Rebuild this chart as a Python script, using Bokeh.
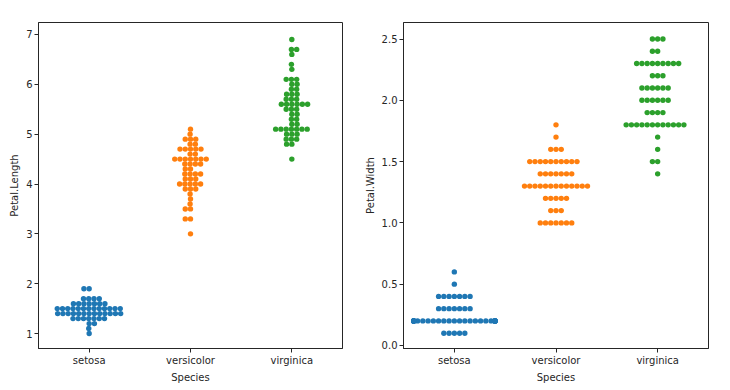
import numpy as np
from bokeh.plotting import figure
from bokeh.layouts import row
from bokeh.models import Range1d, FixedTicker, ColumnDataSource
from bokeh.embed import file_html
from bokeh.resources import INLINE

species = ["setosa", "versicolor", "virginica"]
colors = ["#1f77b4", "#ff7f0e", "#2ca02c"]

setosa_length = [1.4,1.4,1.3,1.5,1.4,1.7,1.4,1.5,1.4,1.5,1.5,1.6,1.4,1.1,1.2,1.5,1.3,1.4,1.7,1.5,
                 1.7,1.5,1.0,1.7,1.9,1.6,1.6,1.5,1.4,1.6,1.6,1.5,1.5,1.4,1.5,1.2,1.3,1.4,1.3,1.5,
                 1.3,1.3,1.3,1.6,1.9,1.4,1.6,1.4,1.5,1.4]
versicolor_length = [4.7,4.5,4.9,4.0,4.9,4.5,4.7,3.3,4.6,3.9,3.5,4.2,4.0,4.7,3.6,4.4,4.5,4.1,4.5,3.9,
                     4.8,4.0,4.9,4.7,4.3,4.4,4.8,5.0,4.5,3.5,3.8,3.7,3.9,5.1,4.5,4.5,4.7,4.4,4.1,4.0,
                     4.4,4.6,4.0,3.3,4.2,4.2,4.2,4.3,3.0,4.1]
virginica_length = [6.0,5.1,5.9,5.6,5.8,6.6,4.5,6.3,5.8,6.1,5.1,5.3,5.5,5.0,5.1,5.3,5.5,6.7,6.9,5.0,
                    5.7,4.9,6.7,4.9,5.7,6.0,4.8,4.9,5.6,5.8,6.1,6.4,5.6,5.1,5.6,6.1,5.6,5.5,4.8,5.4,
                    5.6,5.1,5.1,5.9,5.7,5.2,5.0,5.2,5.4,5.1]

setosa_width = [0.2,0.2,0.2,0.2,0.2,0.4,0.3,0.2,0.2,0.1,0.2,0.2,0.1,0.1,0.2,0.4,0.4,0.3,0.3,0.3,
                0.2,0.4,0.2,0.5,0.2,0.2,0.4,0.2,0.2,0.2,0.2,0.4,0.1,0.2,0.2,0.2,0.2,0.1,0.2,0.2,
                0.3,0.3,0.2,0.6,0.4,0.3,0.2,0.2,0.2,0.2]
versicolor_width = [1.4,1.5,1.5,1.3,1.5,1.3,1.6,1.0,1.3,1.4,1.0,1.5,1.0,1.4,1.3,1.4,1.5,1.0,1.5,1.1,
                    1.8,1.3,1.5,1.2,1.3,1.4,1.4,1.7,1.5,1.0,1.1,1.0,1.2,1.6,1.5,1.6,1.5,1.3,1.3,1.3,
                    1.2,1.4,1.2,1.0,1.3,1.2,1.3,1.3,1.1,1.3]
virginica_width = [2.5,1.9,2.1,1.8,2.2,2.1,1.7,1.8,1.8,2.5,2.0,1.9,2.1,2.0,2.4,2.3,1.8,2.2,2.3,1.5,
                   2.3,2.0,2.0,1.8,2.1,1.8,1.8,1.8,2.1,1.6,1.9,2.0,2.2,1.5,1.4,2.3,2.4,1.8,1.8,2.1,
                   1.8,2.3,2.3,2.3,2.5,2.3,1.9,2.0,2.3,1.8]

length_ticks = [1, 2, 3, 4, 5, 6, 7]
width_ticks = [0.0, 0.5, 1.0, 1.5, 2.0, 2.5]

MARKER = 5.0
FONT = "DejaVu Sans"
TXT = "#262626"


def beeswarm(values, px_per_y, px_per_x, half_width=0.4):
    """Seaborn-like swarm layout, computed in screen pixels; returns x offsets in data units."""
    y = np.asarray(values, dtype=float) * px_per_y
    r = MARKER / 2.0
    order = np.argsort(y, kind="stable")
    placed = []
    out = np.zeros(len(y))
    for idx in order:
        yi = y[idx]
        neigh = [(xj, yj) for (xj, yj) in placed if abs(yi - yj) < 2 * r]
        cands = [0.0]
        left_first = True
        for xj, yj in neigh:
            dy = yi - yj
            dx = np.sqrt(max((2 * r) ** 2 - dy ** 2, 0)) * 1.05
            if left_first:
                cands += [xj - dx, xj + dx]
            else:
                cands += [xj + dx, xj - dx]
            left_first = not left_first
        cands = sorted(cands, key=lambda c: abs(c))
        chosen = cands[0]
        if neigh:
            for c in cands:
                ok = all((xj - c) ** 2 + (yj - yi) ** 2 >= (2 * r) ** 2 - 1e-9 for xj, yj in neigh)
                if ok:
                    chosen = c
                    break
        placed.append((chosen, yi))
        out[idx] = chosen / px_per_x
    return np.clip(out, -half_width, half_width)


def make_panel(series, yrange, ticks, ylabel, fmt, left, frame_w, right, top, frame_h, bottom):
    p = figure(frame_width=frame_w, frame_height=frame_h,
               x_range=Range1d(-0.5, 2.5), y_range=Range1d(*yrange),
               output_backend="svg", toolbar_location=None,
               min_border_left=left, min_border_right=right,
               min_border_top=top, min_border_bottom=bottom)
    px_y = frame_h / (yrange[1] - yrange[0])
    px_x = frame_w / 3.0
    for i, (vals, col) in enumerate(zip(series, colors)):
        offs = beeswarm(vals, px_y, px_x)
        src = ColumnDataSource(dict(x=i + offs, y=vals))
        p.scatter("x", "y", source=src, size=MARKER + 0.4, fill_color=col, line_color=None)
    p.grid.visible = False
    p.outline_line_color = TXT
    p.outline_line_width = 1
    p.outline_line_alpha = 1
    p.background_fill_color = "white"
    p.border_fill_color = "white"

    xa = p.xaxis[0]
    xa.ticker = FixedTicker(ticks=[0, 1, 2])
    xa.major_label_overrides = {0: species[0], 1: species[1], 2: species[2]}
    xa.axis_label = "Species"

    ya = p.yaxis[0]
    ya.ticker = FixedTicker(ticks=ticks)
    ya.major_label_overrides = {t: fmt.format(t) for t in ticks}
    ya.axis_label = ylabel

    for ax in (xa, ya):
        ax.major_tick_out = 4
        ax.major_tick_in = 0
        ax.minor_tick_out = 0
        ax.minor_tick_in = 0
        ax.major_tick_line_color = TXT
        ax.axis_line_color = TXT
        ax.major_label_text_font = FONT
        ax.major_label_text_font_size = "10px"
        ax.major_label_text_color = TXT
        ax.axis_label_text_font = FONT
        ax.axis_label_text_font_size = "10px"
        ax.axis_label_text_font_style = "normal"
        ax.axis_label_text_color = TXT
        ax.major_label_standoff = 2
        ax.axis_label_standoff = 3
    return p


p1 = make_panel([setosa_length, versicolor_length, virginica_length], (0.70, 7.24),
                length_ticks, "Petal.Length", "{:d}",
                left=38, frame_w=304, right=15, top=22, frame_h=326, bottom=36)
p2 = make_panel([setosa_width, versicolor_width, virginica_width], (-0.025, 2.635),
                width_ticks, "Petal.Width", "{:.1f}",
                left=46, frame_w=305, right=14, top=22, frame_h=326, bottom=36)

layout = row(p1, p2)
open("out.html", "w").write(file_html(layout, INLINE))
